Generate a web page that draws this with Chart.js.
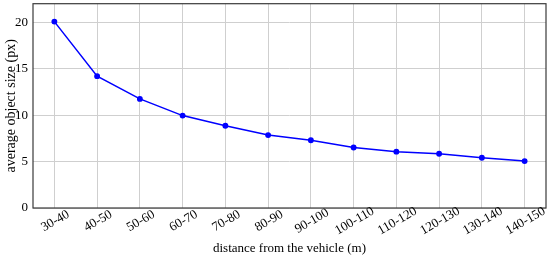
<!DOCTYPE html>
<html>
<head>
<meta charset="utf-8">
<script src="https://cdn.jsdelivr.net/npm/chart.js@4/dist/chart.umd.min.js"></script>
<style>
  html, body { margin: 0; padding: 0; background: #fff; }
  #wrap { width: 550px; height: 258px; position: relative; }
</style>
</head>
<body>
<div id="wrap"><canvas id="myChart"></canvas></div>
<script>
var distanceBins = ["30-40", "40-50", "50-60", "60-70", "70-80", "80-90", "90-100",
    "100-110", "110-120", "120-130", "130-140", "140-150"]
var avgSize = [20.07, 14.2, 11.75, 9.95, 8.85, 7.85, 7.3, 6.52, 6.07, 5.84, 5.41, 5.05]
var yMin = 0
var yMax = 22
var yStep = 5

var serif = "'Liberation Serif', 'Times New Roman', serif"

// x labels are drawn here so they can sit centred under the tick, rotated 30deg
var slantLabels = {
    id: "slantLabels",
    afterDraw: function (chart) {
        var ctx = chart.ctx
        var xs = chart.scales.x
        ctx.save()
        ctx.font = "13px " + serif
        ctx.fillStyle = "#000"
        ctx.textAlign = "center"
        ctx.textBaseline = "middle"
        for (i = 0; i < distanceBins.length; i++) {
            var px = xs.getPixelForTick(i)
            ctx.save()
            ctx.translate(px + 1, chart.chartArea.bottom + 13)
            ctx.rotate(-Math.PI / 6)
            ctx.fillText(xs.getLabelForValue(i), 0, 0)
            ctx.restore()
        }
        ctx.restore()
    }
}

var frameBox = {
    id: "frameBox",
    afterDatasetsDraw: function (chart) {
        var a = chart.chartArea
        var ctx = chart.ctx
        ctx.save()
        ctx.strokeStyle = "#3a3a3a"
        ctx.lineWidth = 1.2
        ctx.strokeRect(a.left, a.top, a.right - a.left, a.bottom - a.top)
        ctx.restore()
    }
}

new Chart("myChart", {
    type: "line",
    data: {
        labels: distanceBins,
        datasets: [{
            label: "average object size",
            data: avgSize,
            borderColor: "#0000ff",
            backgroundColor: "#0000ff",
            borderWidth: 1.5,
            pointRadius: 2.2,
            pointHoverRadius: 2.2,
            tension: 0,
            fill: false
        }]
    },
    options: {
        responsive: true,
        maintainAspectRatio: false,
        animation: false,
        layout: { padding: { top: 3, right: 4, left: 0, bottom: 0 } },
        plugins: {
            legend: { display: false },
            tooltip: { enabled: false }
        },
        scales: {
            x: {
                offset: true,
                grid: { color: "#cfcfcf", lineWidth: 1, drawTicks: false },
                border: { display: false },
                ticks: { display: false },
                title: {
                    display: true,
                    text: "distance from the vehicle (m)",
                    color: "#000",
                    font: { family: serif, size: 13 },
                    padding: { top: 0, bottom: 2 }
                },
                afterFit: function (s) {
                    s.height = 50
                    s.paddingLeft = 0
                    s.paddingRight = 0
                }
            },
            y: {
                min: yMin,
                max: yMax,
                grid: { color: "#cfcfcf", lineWidth: 1, drawTicks: false },
                border: { display: false },
                ticks: {
                    stepSize: yStep,
                    includeBounds: false,
                    padding: 5,
                    color: "#000",
                    font: { family: serif, size: 13 }
                },
                title: {
                    display: true,
                    text: "average object size (px)",
                    color: "#000",
                    font: { family: serif, size: 14 },
                    padding: { top: 3, bottom: 0 }
                },
                afterFit: function (s) {
                    s.width = 33
                    s.paddingTop = 0
                    s.paddingBottom = 0
                }
            }
        }
    },
    plugins: [slantLabels, frameBox]
});
</script>
</body>
</html>
